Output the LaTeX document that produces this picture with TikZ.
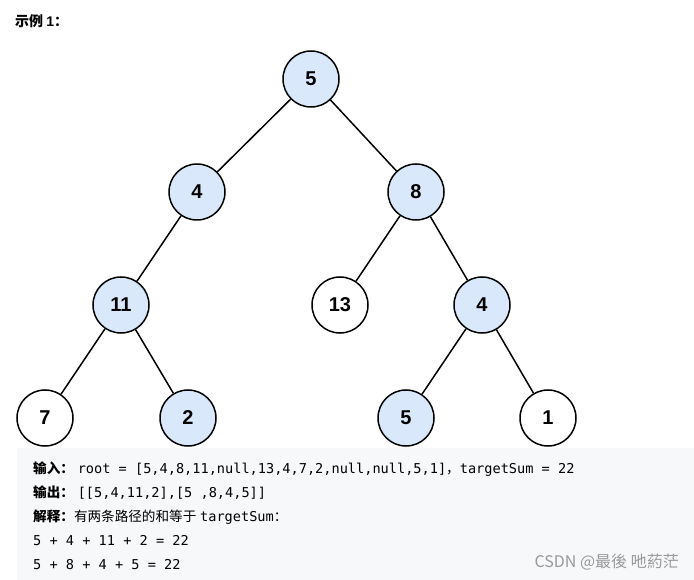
\documentclass[tikz,border=0pt]{standalone}
\usepackage{fontspec}
\setmainfont{Liberation Sans}
\newfontfamily\cjk{Noto Sans CJK SC}
\newfontfamily\cmono{DejaVu Sans Mono}
\begin{document}
\begin{tikzpicture}[x=1pt,y=-1pt,
  tn/.style={circle,draw=black,line width=1.5pt,minimum size=56pt,inner sep=0pt,font=\bfseries\fontsize{20}{20}\selectfont},
  tw/.style={tn,fill=white},
  txt/.style={anchor=west,inner sep=0pt,font=\fontsize{13.6}{13.6}\selectfont}]
\useasboundingbox (0,0) rectangle (694,580);
\definecolor{nb}{HTML}{DAE8FC}
\definecolor{bx}{HTML}{F7F8FA}
\fill[bx] (17,448) rectangle (694,580);
\node[txt,font=\cjk\bfseries\fontsize{14}{14}\selectfont] (title) at (15,21) {示例 {\rmfamily\bfseries 1}：};
\node[tn,fill=nb] (a) at (311,79) {5};
\node[tn,fill=nb] (b) at (197,192) {4};
\node[tn,fill=nb] (c) at (416,192) {8};
\node[tn,fill=nb] (d) at (121,305) {11};
\node[tw] (e) at (340,305) {13};
\node[tn,fill=nb] (f) at (482,305) {4};
\node[tw] (g) at (45,418) {7};
\node[tn,fill=nb] (h) at (188,418) {2};
\node[tn,fill=nb] (i) at (406,418) {5};
\node[tw] (j) at (548,418) {1};
\foreach \u/\v in {a/b,a/c,b/d,c/e,c/f,d/g,d/h,f/i,f/j} \draw[line width=1.5pt] (\u)--(\v);
\node[txt] (l1) at (33,469) {{\cjk\bfseries 输入：} \cmono root = [5,4,8,11,null,13,4,7,2,null,null,5,1]{\cjk，}targetSum = 22};
\node[txt] (l2) at (33,493) {{\cjk\bfseries 输出：} \cmono [[5,4,11,2],[5 ,8,4,5]]};
\node[txt] (l3) at (33,517) {{\cjk\bfseries 解释：}{\cjk 有两条路径的和等于} \cmono targetSum{\cjk：}};
\node[txt] (l4) at (33,541) {\cmono 5 + 4 + 11 + 2 = 22};
\node[txt] (l5) at (33,565) {\cmono 5 + 8 + 4 + 5 = 22};
\node[anchor=east,inner sep=0pt,text=black!40,font=\cjk\fontsize{16}{16}\selectfont] (wm) at (679,562) {CSDN @最後 吔葯茫};
\end{tikzpicture}
\end{document}
